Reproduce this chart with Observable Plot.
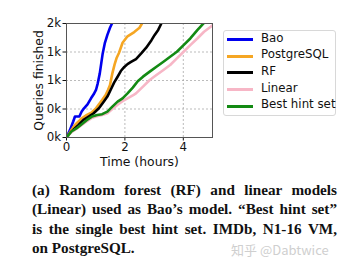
<!DOCTYPE html>
<html>
<head>
<meta charset="utf-8">
<script src="https://cdn.jsdelivr.net/npm/d3@7"></script>
<script src="https://cdn.jsdelivr.net/npm/@observablehq/plot@0.6"></script>
<style>
  html, body { margin: 0; padding: 0; background: #fff; }
  #wrap { position: relative; width: 345px; height: 269px; overflow: hidden; }
  #chart { position: absolute; left: 0; top: 0; }
  #legend { position: absolute; left: 223px; top: 30px; width: 111px; height: 84px;
    border: 1px solid #d8d8d8; border-radius: 3px; background: #fff;
    font-family: "DejaVu Sans", sans-serif; font-size: 11.8px; color: #111; }
  .li { position: absolute; left: 0; height: 14px; }
  .sw { position: absolute; left: 3px; width: 26px; height: 3px; top: 6px; }
  .lt { position: absolute; left: 37px; top: -1.5px; white-space: nowrap; }
  #caption { position: absolute; left: 32px; top: 180px; width: 305px;
    font-family: "Liberation Serif", serif; font-weight: bold; font-size: 15.2px; color: #111; }
  #caption div { height: 19.4px; line-height: 19.4px; white-space: nowrap; text-align: justify; text-align-last: justify; }
  #caption div.last { text-align: left; text-align-last: left; }
  #wm { position: absolute; left: 231px; top: 240px; font-family: "Noto Sans CJK SC", "DejaVu Sans", sans-serif;
    font-size: 13px; color: #cfcfcf; white-space: nowrap; }
</style>
</head>
<body>
<div id="wrap">
  <div id="chart"></div>
  <div id="legend"></div>
  <div id="caption"></div>
  <div id="wm">知乎 @Dabtwice</div>
</div>
<script>
// Series names and colors
const seriesNames = ["Bao", "PostgreSQL", "RF", "Linear", "Best hint set"];
const seriesColors = ["#0000ee", "#f5a623", "#000000", "#f7b6c6", "#138a13"];

// Time (hours) and queries finished per series
const baoT = [0, 0.12, 0.23, 0.29, 0.44, 0.52, 0.60, 0.72, 0.84, 0.93, 1.01, 1.07, 1.14, 1.19, 1.24, 1.31, 1.40, 1.49, 1.57];
const baoQ = [0, 107, 224, 294, 294, 364, 410, 466, 550, 606, 667, 760, 900, 1040, 1180, 1320, 1440, 1540, 1610];

const pgT = [0, 0.06, 0.17, 0.29, 0.41, 0.52, 0.70, 0.87, 0.99, 1.11, 1.22, 1.34, 1.42, 1.49, 1.57, 1.65, 1.72, 1.80, 1.92, 2.09, 2.32, 2.50, 2.60];
const pgQ = [0, 37, 107, 177, 224, 270, 317, 354, 401, 466, 527, 597, 667, 737, 900, 1030, 1120, 1190, 1330, 1420, 1480, 1540, 1610];

const rfT = [0, 0.12, 0.23, 0.41, 0.58, 0.76, 0.93, 1.11, 1.28, 1.40, 1.51, 1.63, 1.75, 1.86, 1.98, 2.09, 2.21, 2.38, 2.56, 2.73, 2.91, 3.02, 3.14, 3.26];
const rfQ = [0, 60, 107, 177, 247, 294, 340, 410, 504, 574, 667, 770, 853, 933, 990, 1030, 1060, 1100, 1180, 1260, 1366, 1440, 1510, 1610];

const linT = [0, 0.17, 0.35, 0.52, 0.70, 0.87, 1.05, 1.22, 1.40, 1.57, 1.75, 1.92, 2.09, 2.27, 2.38, 2.62, 2.85, 3.08, 3.32, 3.55, 3.78, 4.01, 4.24, 4.48, 4.71, 4.94, 5.0];
const linQ = [0, 75, 125, 175, 230, 275, 300, 315, 340, 400, 460, 510, 550, 590, 620, 714, 807, 877, 947, 1017, 1110, 1204, 1297, 1390, 1484, 1554, 1575];

const bestT = [0, 0.17, 0.35, 0.52, 0.70, 0.87, 1.05, 1.22, 1.40, 1.57, 1.75, 1.92, 2.09, 2.27, 2.44, 2.62, 2.85, 3.08, 3.32, 3.55, 3.78, 4.01, 4.24, 4.48, 4.71];
const bestQ = [0, 84, 130, 186, 247, 294, 317, 327, 364, 434, 504, 550, 620, 700, 790, 854, 924, 994, 1064, 1134, 1204, 1297, 1390, 1506, 1610];

// Axis ticks and labels
const xTicks = [0, 2, 4];
const yTicks = [0, 400, 800, 1200, 1600];
const xLabel = ["Time (hours)"];
const yLabel = ["Queries finished"];

const captionLines = [
  "(a) Random forest (RF) and linear models",
  "(Linear) used as Bao\u2019s model. \u201cBest hint set\u201d",
  "is the single best hint set. IMDb, N1-16 VM,",
  "on PostgreSQL."
];

const seriesT = [baoT, pgT, rfT, linT, bestT];
const seriesQ = [baoQ, pgQ, rfQ, linQ, bestQ];
const rows = [];
seriesNames.forEach((name, i) => {
  seriesT[i].forEach((t, j) => rows.push({series: name, t, q: seriesQ[i][j]}));
});

const chart = Plot.plot({
  width: 345,
  height: 175,
  marginLeft: 66,
  marginRight: 133,
  marginTop: 23,
  marginBottom: 38,
  style: {fontFamily: "DejaVu Sans, sans-serif", fontSize: "11.8px", color: "#111", background: "transparent"},
  x: {domain: [0, 5], ticks: xTicks, tickSize: 3.5, tickPadding: 2, label: null, tickFormat: d => String(d)},
  y: {domain: [0, 1600], ticks: yTicks, tickSize: 3.5, tickPadding: 2, label: null, tickFormat: d => Math.round(d / 1000) + "k"},
  color: {domain: seriesNames, range: seriesColors},
  marks: [
    Plot.gridX(xTicks, {stroke: "#aaa", strokeOpacity: 0.8, strokeDasharray: "2,2"}),
    Plot.gridY(yTicks, {stroke: "#aaa", strokeOpacity: 0.8, strokeDasharray: "2,2"}),
    Plot.line(rows, {x: "t", y: "q", z: "series", stroke: "series", strokeWidth: 2.6, clip: true, strokeLinejoin: "round"}),
    Plot.frame({stroke: "#555", strokeWidth: 1}),
    Plot.text(xLabel, {text: d => d, frameAnchor: "bottom", dy: 25, lineAnchor: "middle", textAnchor: "middle", fontSize: 12.4, fill: "#111"}),
    Plot.text(yLabel, {text: d => d, frameAnchor: "left", dx: -27, rotate: -90, lineAnchor: "middle", textAnchor: "middle", fontSize: 12.4, fill: "#111"})
  ]
});
document.getElementById("chart").appendChild(chart);

// Legend
const legend = document.getElementById("legend");
seriesNames.forEach((name, i) => {
  const li = document.createElement("div");
  li.className = "li";
  li.style.top = (1 + i * 16.7) + "px";
  const sw = document.createElement("div");
  sw.className = "sw";
  sw.style.background = seriesColors[i];
  const lt = document.createElement("div");
  lt.className = "lt";
  lt.textContent = name;
  li.appendChild(sw); li.appendChild(lt);
  legend.appendChild(li);
});

// Caption
const cap = document.getElementById("caption");
captionLines.forEach((line, i) => {
  const d = document.createElement("div");
  d.textContent = line;
  if (i === captionLines.length - 1) d.className = "last";
  cap.appendChild(d);
});
</script>
</body>
</html>
